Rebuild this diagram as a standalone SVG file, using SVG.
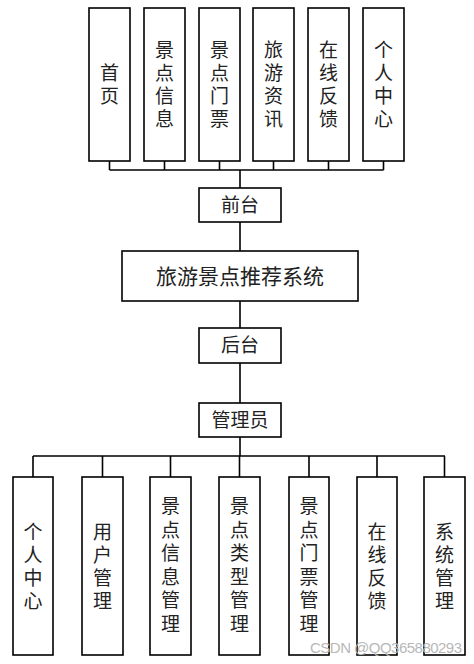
<svg xmlns="http://www.w3.org/2000/svg" width="474" height="664" viewBox="0 0 474 664">
<style>
.b{fill:#fff;stroke:#000;stroke-width:1.6}
.t{font-family:"Liberation Sans","Noto Sans CJK SC",sans-serif;font-size:19px;fill:#222;text-anchor:middle;dominant-baseline:central}
.l{fill:none;stroke:#000;stroke-width:1.6}
.w{font-family:"Liberation Sans",Arial,sans-serif;font-size:15px;fill:#b8b8b8}
</style>
<rect width="474" height="664" fill="#fff"/>
<g id="connectors">
<path class="l" d="M109.5 161V170M164.5 161V170M219.5 161V170M273.5 161V170M328.5 161V170M383.5 161V170M109.5 170H383.5M240 170V188"/>
<path class="l" d="M240 222V251M240 301V328M240 363V403M240 437V456"/>
<path class="l" d="M33 456H445M33 456V477M102.5 456V477M170.5 456V477M239.5 456V477M309 456V477M377 456V477M444.5 456V477"/>
</g>
<g id="n_shouye"><rect class="b" x="89" y="8" width="41" height="153"/><text class="t"><tspan x="109.5" y="73">首</tspan><tspan x="109.5" y="96">页</tspan></text></g>
<g id="n_jdxx"><rect class="b" x="144" y="8" width="41" height="153"/><text class="t"><tspan x="164.5" y="50">景</tspan><tspan x="164.5" y="73">点</tspan><tspan x="164.5" y="96">信</tspan><tspan x="164.5" y="119">息</tspan></text></g>
<g id="n_jdmp"><rect class="b" x="199" y="8" width="41" height="153"/><text class="t"><tspan x="219.5" y="50">景</tspan><tspan x="219.5" y="73">点</tspan><tspan x="219.5" y="96">门</tspan><tspan x="219.5" y="119">票</tspan></text></g>
<g id="n_lyzx"><rect class="b" x="253" y="8" width="41" height="153"/><text class="t"><tspan x="273.5" y="50">旅</tspan><tspan x="273.5" y="73">游</tspan><tspan x="273.5" y="96">资</tspan><tspan x="273.5" y="119">讯</tspan></text></g>
<g id="n_zxfk"><rect class="b" x="308" y="8" width="41" height="153"/><text class="t"><tspan x="328.5" y="50">在</tspan><tspan x="328.5" y="73">线</tspan><tspan x="328.5" y="96">反</tspan><tspan x="328.5" y="119">馈</tspan></text></g>
<g id="n_grzx"><rect class="b" x="363" y="8" width="41" height="153"/><text class="t"><tspan x="383.5" y="50">个</tspan><tspan x="383.5" y="73">人</tspan><tspan x="383.5" y="96">中</tspan><tspan x="383.5" y="119">心</tspan></text></g>
<g id="n_qiantai"><rect class="b" x="199" y="188" width="82" height="34"/><text class="t" x="240" y="205">前台</text></g>
<g id="n_system"><rect class="b" x="122" y="251" width="236" height="50"/><text class="t" x="240" y="276" style="font-size:21px">旅游景点推荐系统</text></g>
<g id="n_houtai"><rect class="b" x="199" y="328" width="82" height="35"/><text class="t" x="240" y="345.5">后台</text></g>
<g id="n_admin"><rect class="b" x="199" y="403" width="82" height="34"/><text class="t" x="240" y="420">管理员</text></g>
<g id="m_grzx"><rect class="b" x="13" y="477" width="40" height="178"/><text class="t"><tspan x="33" y="532">个</tspan><tspan x="33" y="555">人</tspan><tspan x="33" y="578">中</tspan><tspan x="33" y="601">心</tspan></text></g>
<g id="m_yhgl"><rect class="b" x="82" y="477" width="41" height="178"/><text class="t"><tspan x="102.5" y="532">用</tspan><tspan x="102.5" y="555">户</tspan><tspan x="102.5" y="578">管</tspan><tspan x="102.5" y="601">理</tspan></text></g>
<g id="m_jdxxgl"><rect class="b" x="150" y="477" width="41" height="178"/><text class="t"><tspan x="170.5" y="506">景</tspan><tspan x="170.5" y="529.5">点</tspan><tspan x="170.5" y="553">信</tspan><tspan x="170.5" y="576.5">息</tspan><tspan x="170.5" y="600">管</tspan><tspan x="170.5" y="623.5">理</tspan></text></g>
<g id="m_jdlxgl"><rect class="b" x="219" y="477" width="41" height="178"/><text class="t"><tspan x="239.5" y="506">景</tspan><tspan x="239.5" y="529.5">点</tspan><tspan x="239.5" y="553">类</tspan><tspan x="239.5" y="576.5">型</tspan><tspan x="239.5" y="600">管</tspan><tspan x="239.5" y="623.5">理</tspan></text></g>
<g id="m_jdmpgl"><rect class="b" x="289" y="477" width="40" height="178"/><text class="t"><tspan x="309" y="506">景</tspan><tspan x="309" y="529.5">点</tspan><tspan x="309" y="553">门</tspan><tspan x="309" y="576.5">票</tspan><tspan x="309" y="600">管</tspan><tspan x="309" y="623.5">理</tspan></text></g>
<g id="m_zxfk"><rect class="b" x="357" y="477" width="40" height="178"/><text class="t"><tspan x="377" y="532">在</tspan><tspan x="377" y="555">线</tspan><tspan x="377" y="578">反</tspan><tspan x="377" y="601">馈</tspan></text></g>
<g id="m_xtgl"><rect class="b" x="424" y="477" width="41" height="178"/><text class="t"><tspan x="444.5" y="532">系</tspan><tspan x="444.5" y="555">统</tspan><tspan x="444.5" y="578">管</tspan><tspan x="444.5" y="601">理</tspan></text></g>
<text class="w" x="310" y="653" textLength="152">CSDN @QQ365880293</text>
</svg>
